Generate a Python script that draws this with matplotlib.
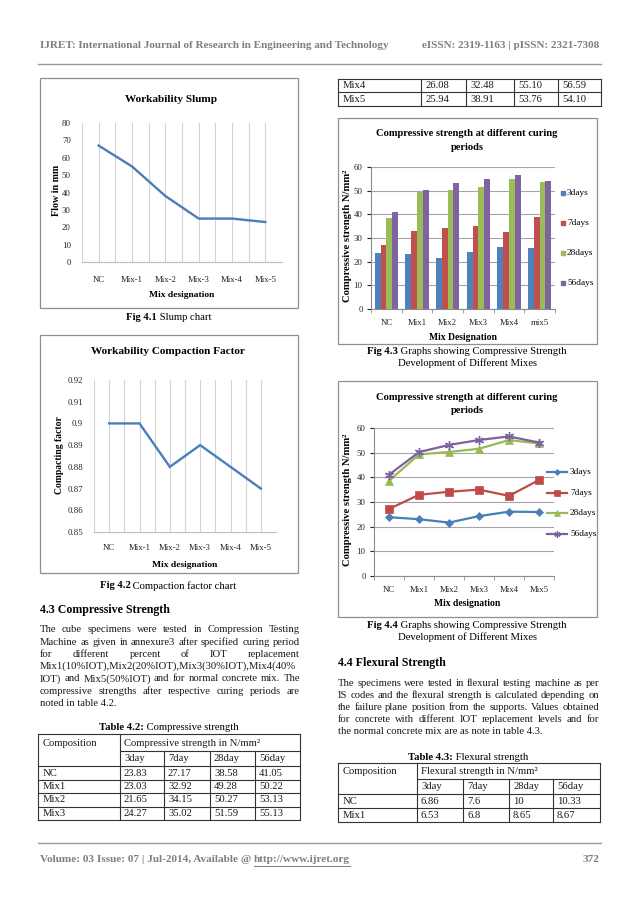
import matplotlib
matplotlib.use("Agg")
import matplotlib.pyplot as plt
from matplotlib.lines import Line2D
from matplotlib.patches import Rectangle

# Page from IJRET paper: workability + compressive / flexural strength results
plt.rcParams['font.family'] = ['Liberation Serif', 'DejaVu Serif']

W, H = 638, 902
BODY = 7.7

# ---- data ----
slump_mixes = ['NC', 'Mix-1', 'Mix-2', 'Mix-3', 'Mix-4', 'Mix-5']
slump_flow = [67, 55, 38, 25, 25, 23]
cf_values = [0.90, 0.90, 0.88, 0.89, 0.88, 0.87]

comp_mixes = ['NC', 'Mix1', 'Mix2', 'Mix3', 'Mix4', 'Mix5']
bar_xlabels = ['NC', 'Mix1', 'Mix2', 'Mix3', 'Mix4', 'mix5']
day_labels = ['3days', '7days', '28days', '56days']
table_days = ['3day', '7day', '28day', '56day']
comp_3 = [23.83, 23.03, 21.65, 24.27, 26.08, 25.94]
comp_7 = [27.17, 32.92, 34.15, 35.02, 32.48, 38.91]
comp_28 = [38.58, 49.28, 50.27, 51.59, 55.10, 53.76]
comp_56 = [41.05, 50.22, 53.13, 55.13, 56.59, 54.10]

flex_mixes = ['NC', 'Mix1']
flex_3 = [6.86, 6.53]
flex_7 = [7.6, 6.8]
flex_28 = [10, 8.65]
flex_56 = [10.33, 8.67]

bar_colors = ['#4F81BD', '#C0504D', '#9BBB59', '#8064A2']
line_colors = ['#4A7EBB', '#BE4B48', '#98B954', '#7D60A0']
line_markers = ['D', 's', '^', (6, 2, 0)]

fig = plt.figure(figsize=(W / 100, H / 100), dpi=100)
fig.patch.set_facecolor('white')
rend = fig.canvas.get_renderer()


def fx(x):
    return x / W


def fy(y):
    return 1 - y / H


def put(x, y, s, size=BODY, ha='left', va='center', **kw):
    return fig.text(fx(x), fy(y), s, size=size, ha=ha, va=va, **kw)


def hline(x0, x1, y, color='#333333', lw=0.8):
    fig.add_artist(Line2D([fx(x0), fx(x1)], [fy(y), fy(y)],
                          transform=fig.transFigure, color=color, lw=lw))


def vline(x, y0, y1, color='#333333', lw=0.8):
    fig.add_artist(Line2D([fx(x), fx(x)], [fy(y0), fy(y1)],
                          transform=fig.transFigure, color=color, lw=lw))


def box(x0, y0, x1, y1):
    fig.add_artist(Rectangle((fx(x0), fy(y1)), fx(x1) - fx(x0), fy(y0) - fy(y1),
                             transform=fig.transFigure, fill=False,
                             ec='#8f8f8f', lw=0.9))


def width_of(t):
    return t.get_window_extent(renderer=rend).width


def mixed(xc, y, parts, size=BODY):
    # centered run of (text, weight) pieces
    texts = [put(0, y, s, size=size, weight=w) for s, w in parts]
    ws = [width_of(t) for t in texts]
    x = xc - sum(ws) / 2
    for t, w in zip(texts, ws):
        t.set_x(fx(x))
        x += w


def justify(lines, x0, x1, y0, dy, size=BODY):
    for i, line in enumerate(lines):
        y = y0 + i * dy
        words = line.split()
        if i == len(lines) - 1 or len(words) == 1:
            put(x0, y, line, size=size, color='#1a1a1a')
            continue
        texts = [put(0, y, w, size=size, color='#1a1a1a') for w in words]
        ws = [width_of(t) for t in texts]
        gap = (x1 - x0 - sum(ws)) / (len(words) - 1)
        x = x0
        for t, w in zip(texts, ws):
            t.set_x(fx(x))
            x += w + gap


def add_ax(x0, y0, x1, y1):
    return fig.add_axes([fx(x0), fy(y1), fx(x1) - fx(x0), fy(y0) - fy(y1)])


# ---- header / footer ----
put(40, 46, 'IJRET: International Journal of Research in Engineering and Technology',
    size=8.0, weight='bold', color='#7f7f7f')
put(599, 46, 'eISSN: 2319-1163 | pISSN: 2321-7308', size=8.0, weight='bold',
    color='#7f7f7f', ha='right')
hline(38, 601, 64, color='#9a9a9a', lw=1.0)
hline(38, 601, 843, color='#9a9a9a', lw=1.0)
ft = put(40, 860, 'Volume: 03 Issue: 07 | Jul-2014, Available @ ', size=8.1,
         weight='bold', color='#7f7f7f')
fw = width_of(ft)
ut = put(40 + fw, 860, 'http://www.ijret.org', size=8.1, weight='bold', color='#7f7f7f')
hline(40 + fw, 40 + fw + width_of(ut), 865.5, color='#7f7f7f', lw=0.7)
put(599, 860, '372', size=8.1, weight='bold', color='#7f7f7f', ha='right')


def workability_chart(ax, values, ylim, yticks, ylabels):
    xs = [i + 0.5 for i in range(len(values))]
    for g in [i * 0.5 for i in range(13)]:
        ax.axvline(g, color='#d4d4d4', lw=0.8, zorder=0)
    ax.plot(xs, values, color='#4A7EBB', lw=1.7, solid_joinstyle='miter', zorder=3)
    ax.set_xlim(0, len(values))
    ax.set_ylim(*ylim)
    ax.set_yticks(yticks)
    ax.set_yticklabels(ylabels)
    ax.set_xticks(xs)
    ax.set_xticklabels(slump_mixes)
    for s in ['top', 'right', 'left']:
        ax.spines[s].set_visible(False)
    ax.spines['bottom'].set_color('#bdbdbd')
    ax.tick_params(length=0, labelsize=6.3, colors='#222222')
    ax.set_facecolor('none')


# ---- Fig 4.1 slump ----
box(40, 78, 298, 308)
put(171, 100, 'Workability Slump', size=8.1, weight='bold', ha='center')
ax1 = add_ax(82, 123, 282, 262)
workability_chart(ax1, slump_flow, (0, 80), range(0, 81, 10),
                  [str(v) for v in range(0, 81, 10)])
ax1.tick_params(axis='x', pad=10)
ax1.tick_params(axis='y', pad=8)
put(182, 295, 'Mix designation', size=6.8, weight='bold', ha='center')
put(57, 190, 'Flow in mm', size=7.2, weight='bold', ha='center', rotation=90)
mixed(169, 317, [('Fig 4.1', 'bold'), (' Slump chart', 'normal')])

# ---- Fig 4.2 compaction factor ----
box(40, 335, 298, 573)
put(168, 351, 'Workability Compaction Factor', size=8.1, weight='bold', ha='center')
ax2 = add_ax(94, 380, 276, 532)
cf_ticks = [0.85 + i * 0.01 for i in range(8)]
workability_chart(ax2, cf_values, (0.85, 0.92), cf_ticks,
                  ['%g' % round(v, 2) for v in cf_ticks])
ax2.tick_params(axis='x', pad=9)
ax2.tick_params(axis='y', pad=8)
put(185, 565, 'Mix designation', size=6.8, weight='bold', ha='center')
put(60, 455, 'Compacting factor', size=6.9, weight='bold', ha='center', rotation=90)
mixed(168, 586, [('Fig 4.2', 'bold'), (' Compaction factor chart', 'normal')])

# ---- section 4.3 text ----
put(40, 610, '4.3 Compressive Strength', size=8.6, weight='bold')
justify([
    'The cube specimens were tested in Compression Testing',
    'Machine as given in annexure3 after specified curing period',
    'for different percent of IOT replacement',
    'Mix1(10%IOT),Mix2(20%IOT),Mix3(30%IOT),Mix4(40%',
    'IOT) and Mix5(50%IOT) and for normal concrete mix. The',
    'compressive strengths after respective curing periods are',
    'noted in table 4.2.',
], 40, 300, 630, 12.2)


def table_frame(cols, rows, header_rows=True):
    x0, x1 = cols[0], cols[-1]
    if header_rows:
        hline(x0, x1, rows[0])
        hline(cols[1], x1, rows[1])
        for y in rows[2:]:
            hline(x0, x1, y)
        vline(cols[0], rows[0], rows[-1])
        vline(cols[1], rows[0], rows[-1])
        vline(cols[-1], rows[0], rows[-1])
        for x in cols[2:-1]:
            vline(x, rows[1], rows[-1])
    else:
        for y in rows:
            hline(x0, x1, y)
        for x in cols:
            vline(x, rows[0], rows[-1])


def table_rows(cols, rows, names, series, fmt):
    for i, name in enumerate(names):
        yc = (rows[i] + rows[i + 1]) / 2
        put(cols[0] + 5, yc, name, color='#1a1a1a')
        for j, s in enumerate(series):
            put(cols[j + 1] + 4, yc, fmt(s[i]), color='#1a1a1a')


def table_header(cols, rows, title):
    put(cols[0] + 5, (rows[0] + rows[1]) / 2 + 1, 'Composition', color='#1a1a1a')
    put(cols[1] + 4, (rows[0] + rows[1]) / 2 + 1, title, color='#1a1a1a')
    for j, d in enumerate(table_days):
        put(cols[j + 1] + 4, (rows[1] + rows[2]) / 2, d, color='#1a1a1a')


comp_series = [comp_3, comp_7, comp_28, comp_56]

# ---- Table 4.2 (left part) ----
mixed(169, 728, [('Table 4.2:', 'bold'), (' Compressive strength', 'normal')])
t42_cols = [38, 120, 164, 210, 255, 300]
t42_rows = [734, 751, 766, 780, 793, 807, 820]
table_frame(t42_cols, t42_rows)
table_header(t42_cols, t42_rows, 'Compressive strength in N/mm\u00b2')
table_rows(t42_cols, t42_rows[2:], comp_mixes[:4], [s[:4] for s in comp_series],
           lambda v: '%.2f' % v)

# ---- Table 4.2 (continued, right top) ----
t42b_cols = [338, 421, 466, 514, 558, 601]
t42b_rows = [79, 92, 106]
table_frame(t42b_cols, t42b_rows, header_rows=False)
table_rows(t42b_cols, t42b_rows, comp_mixes[4:], [s[4:] for s in comp_series],
           lambda v: '%.2f' % v)


def strength_axes(ax):
    ax.set_ylim(0, 60)
    ax.set_yticks(range(0, 61, 10))
    ax.set_xlim(0, 6)
    ax.grid(axis='y', color='#a6a6a6', lw=0.8)
    ax.set_axisbelow(True)
    for s in ['top', 'right']:
        ax.spines[s].set_visible(False)
    for s in ['left', 'bottom']:
        ax.spines[s].set_color('#8c8c8c')
    ax.set_xticks(range(0, 7), minor=True)
    ax.tick_params(axis='x', which='minor', length=3, color='#8c8c8c')
    ax.tick_params(axis='x', which='major', length=0, pad=7)
    ax.tick_params(axis='y', length=3, color='#8c8c8c', pad=3)
    ax.tick_params(labelsize=6.3, colors='#222222')
    ax.tick_params(axis='x', which='minor', colors='#8c8c8c')
    ax.set_facecolor('none')


# ---- Fig 4.3 bar chart ----
box(338, 118, 597, 344)
put(467, 134, 'Compressive strength at different curing', size=7.6, weight='bold', ha='center')
put(467, 147, 'periods', size=7.6, weight='bold', ha='center')
ax3 = add_ax(371, 167, 555, 309)
bw = 0.19
for k, (s, c) in enumerate(zip(comp_series, bar_colors)):
    xs = [i + 0.5 + (k - 1.5) * bw for i in range(6)]
    ax3.bar(xs, s, width=bw, color=c, edgecolor='none', zorder=3)
strength_axes(ax3)
ax3.set_xticks([i + 0.5 for i in range(6)])
ax3.set_xticklabels(bar_xlabels)
for k, (lab, c) in enumerate(zip(day_labels, bar_colors)):
    y = 193 + k * 30
    fig.add_artist(Rectangle((fx(561), fy(y + 2)), 4 / W, 4 / H,
                             transform=fig.transFigure, color=c))
    put(567, y, lab, size=6.7)
put(463, 338, 'Mix Designation', size=6.9, weight='bold', ha='center')
put(347, 236, 'Compressive strength N/mm\u00b2', size=7.7, weight='bold',
    ha='center', rotation=90)
mixed(467, 352, [('Fig 4.3', 'bold'), (' Graphs showing Compressive Strength', 'normal')])
put(467, 363, 'Development of Different Mixes', ha='center')

# ---- Fig 4.4 line chart ----
box(338, 381, 597, 617)
put(467, 398, 'Compressive strength at different curing', size=7.6, weight='bold', ha='center')
put(467, 410, 'periods', size=7.6, weight='bold', ha='center')
ax4 = add_ax(374, 428, 554, 576)
msizes = [4.2, 5.6, 5.2, 6.5]
for s, c, m, ms in zip(comp_series, line_colors, line_markers, msizes):
    ax4.plot([i + 0.5 for i in range(6)], s, color=c, lw=1.6, marker=m,
             ms=ms, mec=c, mew=1.0 if m == (6, 2, 0) else 0.5, zorder=3)
strength_axes(ax4)
ax4.set_xticks([i + 0.5 for i in range(6)])
ax4.set_xticklabels(comp_mixes)
for k, (lab, c, m, ms) in enumerate(zip(day_labels, line_colors, line_markers, msizes)):
    y = 472 + k * 20.7
    fig.add_artist(Line2D([fx(547), fx(557), fx(567)], [fy(y)] * 3,
                          transform=fig.transFigure, color=c, lw=1.6, marker=m,
                          markevery=[1], ms=ms * 0.7, mec=c,
                          mew=1.0 if m == (6, 2, 0) else 0.5))
    put(570, y, lab, size=6.7)
put(467, 603, 'Mix designation', size=6.9, weight='bold', ha='center')
put(348, 500, 'Compressive strength N/mm\u00b2', size=7.7, weight='bold',
    ha='center', rotation=90)
mixed(467, 625, [('Fig 4.4', 'bold'), (' Graphs showing Compressive Strength', 'normal')])
put(467, 637, 'Development of Different Mixes', ha='center')

# ---- section 4.4 text ----
put(338, 663, '4.4 Flexural Strength', size=8.6, weight='bold')
justify([
    'The specimens were tested in flexural testing machine as per',
    'IS codes and the flexural strength is calculated depending on',
    'the failure plane position from the supports. Values obtained',
    'for concrete with different IOT replacement levels and for',
    'the normal concrete mix are as note in table 4.3.',
], 338, 599, 683, 12.1)

# ---- Table 4.3 ----
mixed(468, 757, [('Table 4.3:', 'bold'), (' Flexural strength', 'normal')])
t43_cols = [338, 417, 463, 509, 553, 600]
t43_rows = [763, 779, 794, 808, 822]
table_frame(t43_cols, t43_rows)
table_header(t43_cols, t43_rows, 'Flexural strength in N/mm\u00b2')
table_rows(t43_cols, t43_rows[2:], flex_mixes, [flex_3, flex_7, flex_28, flex_56],
           lambda v: '%g' % v)

fig.savefig('out.png', dpi=100)
